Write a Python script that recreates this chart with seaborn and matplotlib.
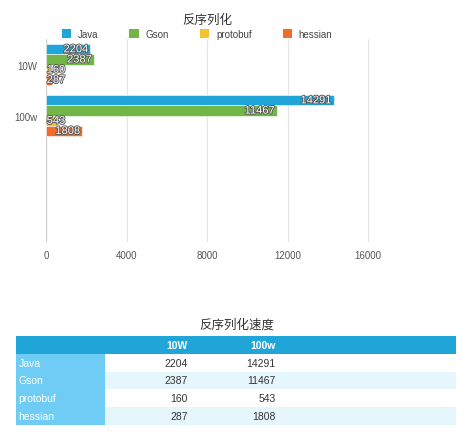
import pandas as pd
import numpy as np
import matplotlib
matplotlib.use("Agg")
import matplotlib.pyplot as plt
import matplotlib.patheffects as pe
import seaborn as sns

# data
scales = ["10W", "100w"]
libs = ["Java", "Gson", "protobuf", "hessian"]
times_10w = [2204, 2387, 160, 287]
times_100w = [14291, 11467, 543, 1808]
colors = ["#1fa5d8", "#72b64a", "#f5c12e", "#f26b2a"]
x_ticks = [0, 4000, 8000, 12000, 16000]

df = pd.DataFrame({
    "scale": [scales[0]] * 4 + [scales[1]] * 4,
    "lib": libs * 2,
    "time": times_10w + times_100w,
})

sns.set_theme(style="white")
plt.rcParams["font.family"] = ["Liberation Sans", "Noto Sans CJK SC", "DejaVu Sans"]

fig = plt.figure(figsize=(4.74, 4.39), dpi=100)

# bar chart
ax = fig.add_axes([46 / 474, 1 - 243 / 439, 402.5 / 474, 203 / 439])
sns.barplot(data=df, y="scale", x="time", hue="lib", orient="h",
            palette=colors, saturation=1, width=0.8, ax=ax,
            edgecolor="white", linewidth=0.4, legend=True)

ax.set_xlim(0, 20000)
ax.set_ylim(3.47, -0.5)
ax.set_xticks(x_ticks)
ax.set_xticklabels([str(t) for t in x_ticks])
for t in x_ticks:
    ax.axvline(t, color="#cfcfcf" if t == 0 else "#e6e6e6", lw=0.9, zorder=0)
for s in ax.spines.values():
    s.set_visible(False)
ax.tick_params(axis="both", length=0, labelsize=7, colors="#555555", pad=6)
ax.set_xlabel("")
ax.set_ylabel("")

# value labels, white with a dark outline
stroke = [pe.withStroke(linewidth=1.3, foreground="#555555")]
for p in ax.patches:
    w = p.get_width()
    if w <= 0:
        continue
    y = p.get_y() + p.get_height() / 2
    if w > 1000:
        ax.annotate(f"{int(round(w))}", (w, y), xytext=(-1.5, 0), textcoords="offset points",
                    ha="right", va="center", fontsize=8, color="white", path_effects=stroke)
    else:
        ax.annotate(f"{int(round(w))}", (0, y), xytext=(0.5, 0), textcoords="offset points",
                    ha="left", va="center", fontsize=8, color="white", path_effects=stroke)

handles, labels = ax.get_legend_handles_labels()
ax.get_legend().remove()
leg = fig.legend(handles, labels, loc="center", bbox_to_anchor=(197 / 474, 1 - 35 / 439), ncol=4,
                 frameon=False, fontsize=7, handlelength=0.95, handleheight=0.95,
                 columnspacing=3.2, handletextpad=0.7, labelcolor="#444444")
for h in leg.legend_handles:
    h.set_edgecolor("none")

fig.text(207 / 474, 1 - 21 / 439, "反序列化", ha="center", va="center", fontsize=9, color="#333333")

# table
fig.text(237 / 474, 1 - 325 / 439, "反序列化速度", ha="center", va="center", fontsize=9, color="#333333")
tax = fig.add_axes([16 / 474, 1 - 426 / 439, 440 / 474, 89 / 439])
tax.axis("off")

header = ["", scales[0], scales[1], ""]
rows = [[lib, str(a), str(b), ""] for lib, a, b in zip(libs, times_10w, times_100w)]
col_w = [89, 85, 88, 178]
col_w = [w / sum(col_w) for w in col_w]
tbl = tax.table(cellText=[header] + rows, colWidths=col_w, bbox=[0, 0, 1, 1], cellLoc="right")
tbl.auto_set_font_size(False)
tbl.set_fontsize(7.5)
for (r, c), cell in tbl.get_celld().items():
    cell.set_edgecolor("none")
    cell.PAD = 0.03
    txt = cell.get_text()
    if r == 0:
        cell.set_facecolor("#1fa5d7")
        txt.set_color("white")
        txt.set_fontweight("bold")
    elif c == 0:
        cell.set_facecolor("#6fcdf5")
        txt.set_color("white")
        txt.set_ha("left")
        cell._loc = "left"
    else:
        cell.set_facecolor("white" if r % 2 == 1 else "#e6f6fd")
        txt.set_color("#333333")

fig.savefig("out.png", dpi=100)
